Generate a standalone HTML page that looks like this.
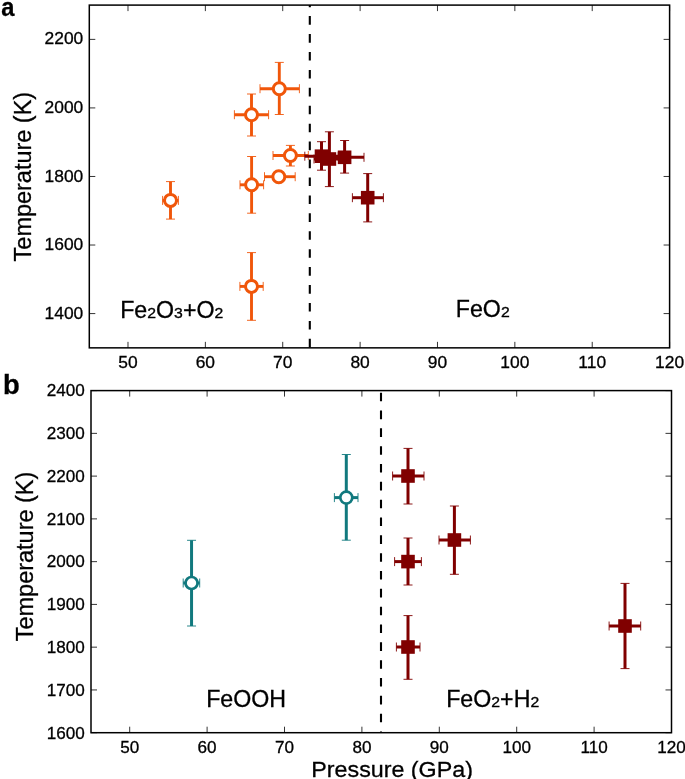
<!DOCTYPE html>
<html lang="en"><head><meta charset="utf-8"><title>Phase diagram</title>
<style>html,body{margin:0;padding:0;background:#fff}body{width:685px;height:779px;overflow:hidden}svg{display:block}text{font-family:"Liberation Sans", sans-serif;fill:#000;stroke:#000;stroke-width:.3px}.tl{font-size:17.4px}.tb{font-size:17.1px}.al{font-size:23px}.pl{font-size:26px;font-weight:bold}.ph{font-size:23.2px}.sb{font-size:14.4px}.tk{stroke:#000;stroke-width:.8;fill:none}.bx{stroke:#000;stroke-width:1.5;fill:none}.ds{stroke:#000;stroke-width:2.1;fill:none}</style></head><body>
<svg width="685" height="779" viewBox="0 0 685 779">
<rect width="685" height="779" fill="#fff"/>
<g fill="none">
<path class="ds" d="M309.8 5.10V7.20M309.8 16.10V24.70M309.8 34.03V42.63M309.8 51.96V60.56M309.8 69.89V78.49M309.8 87.82V96.42M309.8 105.75V114.35M309.8 123.68V132.28M309.8 141.61V150.21M309.8 159.54V168.14M309.8 177.47V186.07M309.8 195.40V204.00M309.8 213.33V221.93M309.8 231.26V239.86M309.8 249.19V257.79M309.8 267.12V275.72M309.8 285.05V293.65M309.8 302.98V311.58M309.8 320.91V329.51M309.8 338.84V347.44"/>
<path d="M162.60 200.40H178.40" stroke="#F0560A" stroke-width="2.9"/><path d="M162.60 195.90v9.0M178.40 195.90v9.0" stroke="#F0560A" stroke-width="0.9"/><path d="M170.50 181.60V219.10" stroke="#F0560A" stroke-width="2.9"/><path d="M166.00 181.60h9.0M166.00 219.10h9.0" stroke="#F0560A" stroke-width="0.9"/>
<path d="M234.40 114.70H268.60" stroke="#F0560A" stroke-width="2.9"/><path d="M234.40 110.20v9.0M268.60 110.20v9.0" stroke="#F0560A" stroke-width="0.9"/><path d="M251.50 94.00V136.00" stroke="#F0560A" stroke-width="2.9"/><path d="M247.00 94.00h9.0M247.00 136.00h9.0" stroke="#F0560A" stroke-width="0.9"/>
<path d="M260.00 88.70H299.40" stroke="#F0560A" stroke-width="2.9"/><path d="M260.00 84.20v9.0M299.40 84.20v9.0" stroke="#F0560A" stroke-width="0.9"/><path d="M279.30 62.40V114.50" stroke="#F0560A" stroke-width="2.9"/><path d="M274.80 62.40h9.0M274.80 114.50h9.0" stroke="#F0560A" stroke-width="0.9"/>
<path d="M273.00 155.50H308.30" stroke="#F0560A" stroke-width="2.9"/><path d="M273.00 151.00v9.0M308.30 151.00v9.0" stroke="#F0560A" stroke-width="0.9"/><path d="M290.40 145.40V166.00" stroke="#F0560A" stroke-width="2.9"/><path d="M285.90 145.40h9.0M285.90 166.00h9.0" stroke="#F0560A" stroke-width="0.9"/>
<path d="M264.50 176.70H295.20" stroke="#F0560A" stroke-width="2.9"/><path d="M264.50 172.20v9.0M295.20 172.20v9.0" stroke="#F0560A" stroke-width="0.9"/>
<path d="M240.00 184.80H263.60" stroke="#F0560A" stroke-width="2.9"/><path d="M240.00 180.30v9.0M263.60 180.30v9.0" stroke="#F0560A" stroke-width="0.9"/><path d="M251.60 156.50V213.20" stroke="#F0560A" stroke-width="2.9"/><path d="M247.10 156.50h9.0M247.10 213.20h9.0" stroke="#F0560A" stroke-width="0.9"/>
<path d="M239.90 286.40H263.20" stroke="#F0560A" stroke-width="2.9"/><path d="M239.90 281.90v9.0M263.20 281.90v9.0" stroke="#F0560A" stroke-width="0.9"/><path d="M251.50 252.60V320.30" stroke="#F0560A" stroke-width="2.9"/><path d="M247.00 252.60h9.0M247.00 320.30h9.0" stroke="#F0560A" stroke-width="0.9"/>
<circle cx="170.50" cy="200.40" r="6.0" fill="#fff" stroke="#F0560A" stroke-width="3.0"/>
<circle cx="251.50" cy="114.70" r="6.0" fill="#fff" stroke="#F0560A" stroke-width="3.0"/>
<circle cx="279.30" cy="88.70" r="6.0" fill="#fff" stroke="#F0560A" stroke-width="3.0"/>
<circle cx="290.40" cy="155.50" r="6.0" fill="#fff" stroke="#F0560A" stroke-width="3.0"/>
<circle cx="278.80" cy="176.70" r="6.0" fill="#fff" stroke="#F0560A" stroke-width="3.0"/>
<circle cx="251.60" cy="184.80" r="6.0" fill="#fff" stroke="#F0560A" stroke-width="3.0"/>
<circle cx="251.50" cy="286.40" r="6.0" fill="#fff" stroke="#F0560A" stroke-width="3.0"/>
<path d="M304.80 156.20H338.20" stroke="#800000" stroke-width="3.0"/><path d="M304.80 151.70v9.0M338.20 151.70v9.0" stroke="#800000" stroke-width="0.9"/><path d="M321.50 141.70V170.20" stroke="#800000" stroke-width="3.0"/><path d="M317.00 141.70h9.0M317.00 170.20h9.0" stroke="#800000" stroke-width="0.9"/>
<path d="M314.00 159.00H344.80" stroke="#800000" stroke-width="3.0"/><path d="M314.00 154.50v9.0M344.80 154.50v9.0" stroke="#800000" stroke-width="0.9"/><path d="M329.40 131.80V186.60" stroke="#800000" stroke-width="3.0"/><path d="M324.90 131.80h9.0M324.90 186.60h9.0" stroke="#800000" stroke-width="0.9"/>
<path d="M325.20 157.30H364.00" stroke="#800000" stroke-width="3.0"/><path d="M325.20 152.80v9.0M364.00 152.80v9.0" stroke="#800000" stroke-width="0.9"/><path d="M344.60 140.50V173.10" stroke="#800000" stroke-width="3.0"/><path d="M340.10 140.50h9.0M340.10 173.10h9.0" stroke="#800000" stroke-width="0.9"/>
<path d="M352.40 197.70H383.40" stroke="#800000" stroke-width="3.0"/><path d="M352.40 193.20v9.0M383.40 193.20v9.0" stroke="#800000" stroke-width="0.9"/><path d="M367.70 173.60V221.90" stroke="#800000" stroke-width="3.0"/><path d="M363.20 173.60h9.0M363.20 221.90h9.0" stroke="#800000" stroke-width="0.9"/>
<rect x="314.70" y="149.40" width="13.6" height="13.6" fill="#800000"/>
<rect x="322.60" y="152.20" width="13.6" height="13.6" fill="#800000"/>
<rect x="337.80" y="150.50" width="13.6" height="13.6" fill="#800000"/>
<rect x="360.90" y="190.90" width="13.6" height="13.6" fill="#800000"/>
</g>
<path d="M127.99 347.85v-6M127.99 5.10v6" class="tk"/>
<path d="M205.36 347.85v-6M205.36 5.10v6" class="tk"/>
<path d="M282.73 347.85v-6M282.73 5.10v6" class="tk"/>
<path d="M360.11 347.85v-6M360.11 5.10v6" class="tk"/>
<path d="M437.48 347.85v-6M437.48 5.10v6" class="tk"/>
<path d="M514.85 347.85v-6M514.85 5.10v6" class="tk"/>
<path d="M592.23 347.85v-6M592.23 5.10v6" class="tk"/>
<path d="M669.60 347.85v-6M669.60 5.10v6" class="tk"/>
<path d="M89.30 313.58h6M669.60 313.58h-6" class="tk"/>
<path d="M89.30 245.03h6M669.60 245.03h-6" class="tk"/>
<path d="M89.30 176.47h6M669.60 176.47h-6" class="tk"/>
<path d="M89.30 107.92h6M669.60 107.92h-6" class="tk"/>
<path d="M89.30 39.38h6M669.60 39.38h-6" class="tk"/>
<rect x="89.30" y="5.10" width="580.30" height="342.75" class="bx"/>
<text x="83.30" y="318.63" class="tl" text-anchor="end">1400</text>
<text x="83.30" y="250.08" class="tl" text-anchor="end">1600</text>
<text x="83.30" y="181.53" class="tl" text-anchor="end">1800</text>
<text x="83.30" y="112.97" class="tl" text-anchor="end">2000</text>
<text x="83.30" y="44.42" class="tl" text-anchor="end">2200</text>
<text x="127.99" y="367.60" class="tl" text-anchor="middle">50</text>
<text x="205.36" y="367.60" class="tl" text-anchor="middle">60</text>
<text x="282.73" y="367.60" class="tl" text-anchor="middle">70</text>
<text x="360.11" y="367.60" class="tl" text-anchor="middle">80</text>
<text x="437.48" y="367.60" class="tl" text-anchor="middle">90</text>
<text x="514.85" y="367.60" class="tl" text-anchor="middle">100</text>
<text x="592.23" y="367.60" class="tl" text-anchor="middle">110</text>
<text x="669.60" y="367.60" class="tl" text-anchor="middle">120</text>
<g fill="none">
<path class="ds" d="M381.0 392.70V401.30M381.0 410.53V419.13M381.0 428.36V436.96M381.0 446.19V454.79M381.0 464.02V472.62M381.0 481.85V490.45M381.0 499.68V508.28M381.0 517.51V526.11M381.0 535.34V543.94M381.0 553.17V561.77M381.0 571.00V579.60M381.0 588.83V597.43M381.0 606.66V615.26M381.0 624.49V633.09M381.0 642.32V650.92M381.0 660.15V668.75M381.0 677.98V686.58M381.0 695.81V704.41M381.0 713.64V722.24M381.0 731.47V732.70"/>
<path d="M183.20 583.00H199.70" stroke="#11797E" stroke-width="3.0"/><path d="M183.20 578.50v9.0M199.70 578.50v9.0" stroke="#11797E" stroke-width="0.9"/><path d="M191.55 540.30V626.00" stroke="#11797E" stroke-width="3.0"/><path d="M187.05 540.30h9.0M187.05 626.00h9.0" stroke="#11797E" stroke-width="0.9"/>
<path d="M334.40 497.60H358.00" stroke="#11797E" stroke-width="3.0"/><path d="M334.40 493.10v9.0M358.00 493.10v9.0" stroke="#11797E" stroke-width="0.9"/><path d="M346.30 454.50V540.20" stroke="#11797E" stroke-width="3.0"/><path d="M341.80 454.50h9.0M341.80 540.20h9.0" stroke="#11797E" stroke-width="0.9"/>
<circle cx="191.55" cy="583.00" r="6.0" fill="#fff" stroke="#11797E" stroke-width="2.7"/>
<circle cx="346.30" cy="497.60" r="6.0" fill="#fff" stroke="#11797E" stroke-width="2.7"/>
<path d="M392.60 476.00H424.00" stroke="#800000" stroke-width="3.0"/><path d="M392.60 471.50v9.0M424.00 471.50v9.0" stroke="#800000" stroke-width="0.9"/><path d="M408.00 448.40V504.00" stroke="#800000" stroke-width="3.0"/><path d="M403.50 448.40h9.0M403.50 504.00h9.0" stroke="#800000" stroke-width="0.9"/>
<path d="M439.00 540.00H470.40" stroke="#800000" stroke-width="3.0"/><path d="M439.00 535.50v9.0M470.40 535.50v9.0" stroke="#800000" stroke-width="0.9"/><path d="M454.40 506.00V574.30" stroke="#800000" stroke-width="3.0"/><path d="M449.90 506.00h9.0M449.90 574.30h9.0" stroke="#800000" stroke-width="0.9"/>
<path d="M394.60 561.60H421.40" stroke="#800000" stroke-width="3.0"/><path d="M394.60 557.10v9.0M421.40 557.10v9.0" stroke="#800000" stroke-width="0.9"/><path d="M408.00 538.00V585.00" stroke="#800000" stroke-width="3.0"/><path d="M403.50 538.00h9.0M403.50 585.00h9.0" stroke="#800000" stroke-width="0.9"/>
<path d="M396.40 647.00H420.00" stroke="#800000" stroke-width="3.0"/><path d="M396.40 642.50v9.0M420.00 642.50v9.0" stroke="#800000" stroke-width="0.9"/><path d="M408.00 615.60V679.30" stroke="#800000" stroke-width="3.0"/><path d="M403.50 615.60h9.0M403.50 679.30h9.0" stroke="#800000" stroke-width="0.9"/>
<path d="M609.10 626.00H640.70" stroke="#800000" stroke-width="3.0"/><path d="M609.10 621.50v9.0M640.70 621.50v9.0" stroke="#800000" stroke-width="0.9"/><path d="M625.00 583.40V668.60" stroke="#800000" stroke-width="3.0"/><path d="M620.50 583.40h9.0M620.50 668.60h9.0" stroke="#800000" stroke-width="0.9"/>
<rect x="401.20" y="469.20" width="13.6" height="13.6" fill="#800000"/>
<rect x="447.60" y="533.20" width="13.6" height="13.6" fill="#800000"/>
<rect x="401.20" y="554.80" width="13.6" height="13.6" fill="#800000"/>
<rect x="401.20" y="640.20" width="13.6" height="13.6" fill="#800000"/>
<rect x="618.20" y="619.20" width="13.6" height="13.6" fill="#800000"/>
</g>
<path d="M129.70 732.70v-6M129.70 390.60v6" class="tk"/>
<path d="M207.10 732.70v-6M207.10 390.60v6" class="tk"/>
<path d="M284.50 732.70v-6M284.50 390.60v6" class="tk"/>
<path d="M361.90 732.70v-6M361.90 390.60v6" class="tk"/>
<path d="M439.30 732.70v-6M439.30 390.60v6" class="tk"/>
<path d="M516.70 732.70v-6M516.70 390.60v6" class="tk"/>
<path d="M594.10 732.70v-6M594.10 390.60v6" class="tk"/>
<path d="M671.50 732.70v-6M671.50 390.60v6" class="tk"/>
<path d="M91.00 732.70h6M671.50 732.70h-6" class="tk"/>
<path d="M91.00 689.94h6M671.50 689.94h-6" class="tk"/>
<path d="M91.00 647.17h6M671.50 647.17h-6" class="tk"/>
<path d="M91.00 604.41h6M671.50 604.41h-6" class="tk"/>
<path d="M91.00 561.65h6M671.50 561.65h-6" class="tk"/>
<path d="M91.00 518.89h6M671.50 518.89h-6" class="tk"/>
<path d="M91.00 476.12h6M671.50 476.12h-6" class="tk"/>
<path d="M91.00 433.36h6M671.50 433.36h-6" class="tk"/>
<path d="M91.00 390.60h6M671.50 390.60h-6" class="tk"/>
<rect x="91.00" y="390.60" width="580.50" height="342.10" class="bx"/>
<text x="84.70" y="738.50" class="tl tb" text-anchor="end">1600</text>
<text x="84.70" y="695.74" class="tl tb" text-anchor="end">1700</text>
<text x="84.70" y="652.97" class="tl tb" text-anchor="end">1800</text>
<text x="84.70" y="610.21" class="tl tb" text-anchor="end">1900</text>
<text x="84.70" y="567.45" class="tl tb" text-anchor="end">2000</text>
<text x="84.70" y="524.69" class="tl tb" text-anchor="end">2100</text>
<text x="84.70" y="481.93" class="tl tb" text-anchor="end">2200</text>
<text x="84.70" y="439.16" class="tl tb" text-anchor="end">2300</text>
<text x="84.70" y="396.40" class="tl tb" text-anchor="end">2400</text>
<text x="129.70" y="752.90" class="tl tb" text-anchor="middle">50</text>
<text x="207.10" y="752.90" class="tl tb" text-anchor="middle">60</text>
<text x="284.50" y="752.90" class="tl tb" text-anchor="middle">70</text>
<text x="361.90" y="752.90" class="tl tb" text-anchor="middle">80</text>
<text x="439.30" y="752.90" class="tl tb" text-anchor="middle">90</text>
<text x="516.70" y="752.90" class="tl tb" text-anchor="middle">100</text>
<text x="594.10" y="752.90" class="tl tb" text-anchor="middle">110</text>
<text x="671.50" y="752.90" class="tl tb" text-anchor="middle">120</text>
<text x="1.3" y="15.7" class="pl" textLength="13.2" lengthAdjust="spacingAndGlyphs">a</text>
<text x="2.9" y="393.6" class="pl" style="font-size:27.4px">b</text>
<text transform="translate(30.6 261.4) rotate(-90)" class="al" textLength="169.5" lengthAdjust="spacingAndGlyphs">Temperature (K)</text>
<text transform="translate(32.7 641.2) rotate(-90)" class="al" textLength="169.5" lengthAdjust="spacingAndGlyphs">Temperature (K)</text>
<text x="311.3" y="776.5" class="al" style="font-size:22.4px" textLength="161.6" lengthAdjust="spacingAndGlyphs">Pressure (GPa)</text>
<text x="120.2" y="318.2" class="ph">Fe<tspan class="sb" textLength="8.8" lengthAdjust="spacingAndGlyphs">2</tspan>O<tspan class="sb" textLength="8.8" lengthAdjust="spacingAndGlyphs">3</tspan>+O<tspan class="sb" textLength="8.8" lengthAdjust="spacingAndGlyphs">2</tspan></text>
<text x="455.8" y="317.4" class="ph">FeO<tspan class="sb" textLength="8.8" lengthAdjust="spacingAndGlyphs">2</tspan></text>
<text x="206.2" y="706.7" class="ph">FeOOH</text>
<text x="446.2" y="707.3" class="ph">FeO<tspan class="sb" textLength="8.8" lengthAdjust="spacingAndGlyphs">2</tspan>+H<tspan class="sb" textLength="8.8" lengthAdjust="spacingAndGlyphs">2</tspan></text>
</svg></body></html>
